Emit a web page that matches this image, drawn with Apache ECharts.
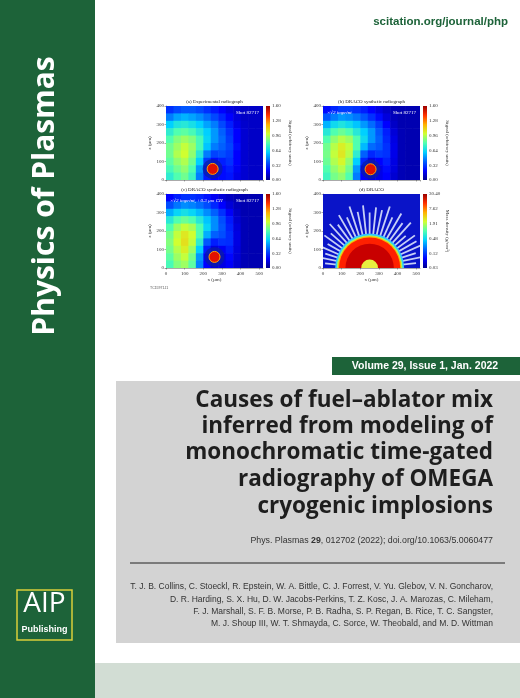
<!DOCTYPE html>
<html><head><meta charset="utf-8">
<script src="https://cdn.jsdelivr.net/npm/echarts@6/dist/echarts.min.js"></script>
<style>html,body{margin:0;padding:0;background:#fff}#c{width:520px;height:698px}</style>
</head><body><div id="c"></div>
<script>
// ---- data ----
const xCenters = [20,60,100,140,180,220,260,300,340,380,420,460,500];
const zCenters = [380,340,300,260,220,180,140,100,60,20];
const gridA = [
[0.30,0.35,0.38,0.38,0.35,0.30,0.25,0.20,0.15,0.12,0.10,0.10,0.10],
[0.45,0.52,0.55,0.52,0.48,0.42,0.35,0.28,0.20,0.14,0.10,0.10,0.10],
[0.60,0.68,0.70,0.66,0.60,0.52,0.45,0.35,0.26,0.16,0.11,0.10,0.10],
[0.72,0.80,0.82,0.78,0.70,0.60,0.50,0.40,0.30,0.20,0.12,0.10,0.10],
[0.80,0.88,0.92,0.88,0.78,0.62,0.50,0.42,0.32,0.20,0.12,0.10,0.10],
[0.85,0.92,0.98,0.92,0.78,0.58,0.45,0.40,0.34,0.22,0.12,0.10,0.10],
[0.85,0.95,1.00,0.90,0.70,0.45,0.34,0.36,0.32,0.20,0.12,0.10,0.10],
[0.82,0.90,0.95,0.85,0.60,0.32,0.22,0.26,0.30,0.20,0.12,0.10,0.10],
[0.78,0.85,0.90,0.80,0.50,0.25,0.20,0.22,0.26,0.18,0.12,0.10,0.10],
[0.72,0.80,0.85,0.75,0.45,0.25,0.20,0.22,0.24,0.16,0.12,0.10,0.10]];
const gridB = [
[0.22,0.28,0.32,0.32,0.30,0.26,0.20,0.15,0.10,0.07,0.06,0.06,0.06],
[0.38,0.45,0.50,0.48,0.44,0.38,0.30,0.22,0.14,0.08,0.06,0.06,0.06],
[0.55,0.64,0.68,0.64,0.58,0.50,0.42,0.32,0.20,0.10,0.06,0.06,0.06],
[0.70,0.80,0.84,0.80,0.70,0.60,0.50,0.38,0.26,0.13,0.07,0.06,0.06],
[0.80,0.90,0.96,0.92,0.80,0.64,0.50,0.40,0.28,0.15,0.07,0.06,0.06],
[0.85,0.96,1.04,0.98,0.80,0.56,0.42,0.38,0.30,0.16,0.07,0.06,0.06],
[0.86,0.98,1.06,0.96,0.72,0.40,0.28,0.32,0.30,0.16,0.07,0.06,0.06],
[0.84,0.95,1.02,0.90,0.60,0.28,0.16,0.20,0.26,0.15,0.07,0.06,0.06],
[0.80,0.90,0.96,0.85,0.50,0.20,0.14,0.16,0.22,0.14,0.07,0.06,0.06],
[0.76,0.86,0.90,0.80,0.45,0.20,0.14,0.16,0.20,0.12,0.07,0.06,0.06]];
const gridC = [
[0.20,0.26,0.30,0.30,0.28,0.24,0.18,0.13,0.09,0.07,0.06,0.06,0.06],
[0.36,0.44,0.48,0.46,0.42,0.36,0.28,0.20,0.13,0.08,0.06,0.06,0.06],
[0.54,0.62,0.66,0.62,0.56,0.48,0.40,0.30,0.19,0.10,0.06,0.06,0.06],
[0.70,0.80,0.84,0.80,0.70,0.58,0.48,0.36,0.25,0.12,0.07,0.06,0.06],
[0.80,0.92,0.98,0.94,0.80,0.62,0.48,0.38,0.27,0.14,0.07,0.06,0.06],
[0.86,0.98,1.06,1.00,0.80,0.54,0.40,0.36,0.29,0.15,0.07,0.06,0.06],
[0.88,1.00,1.08,0.98,0.72,0.38,0.26,0.30,0.29,0.15,0.07,0.06,0.06],
[0.86,0.96,1.04,0.92,0.60,0.26,0.15,0.18,0.25,0.14,0.07,0.06,0.06],
[0.82,0.92,0.98,0.86,0.50,0.20,0.13,0.15,0.21,0.13,0.07,0.06,0.06],
[0.78,0.88,0.92,0.82,0.46,0.20,0.13,0.15,0.19,0.12,0.07,0.06,0.06]];
const hotSpots = [[250,60],[255,58],[260,60]];
const dRings = [[185,'#30c8ff'],[176,'#a0ff60'],[170,'#ffb000'],[164,'#ff2000'],[130,'#c80000'],[45,'#e8f040']];
const dSpikes = [[6,250],[12,300],[18,260],[24,320],[30,290],[36,300],[42,260],[48,330],[54,300],[60,340],[66,300],[72,350],[78,320],[84,330],[90,300],[96,340],[102,310],[108,350],[114,300],[120,330],[126,290],[132,320],[138,280],[144,300],[150,260],[156,290],[162,250],[168,270],[174,240]];
const sigTicks = ['0.00','0.32','0.64','0.96','1.28','1.60'];
const rhoTicks = ['0.03','0.12','0.48','1.91','7.62','30.40'];
const titles = ['(a) Experimental radiograph','(b) DRACO synthetic radiograph','(c) DRACO synthetic radiograph','(d) DRACO'];
const insets = [['','Shot 82717'],['×√2 imprint','Shot 82717'],['×√2 imprint, +0.3 µm CH','Shot 82717'],['','']];
const title = ['Causes of fuel–ablator mix','inferred from modeling of','monochromatic time-gated','radiography of OMEGA','cryogenic implosions'];
const authors = ['T. J. B. Collins, C. Stoeckl, R. Epstein, W. A. Bittle, C. J. Forrest, V. Yu. Glebov, V. N. Goncharov,',
'D. R. Harding, S. X. Hu, D. W. Jacobs-Perkins, T. Z. Kosc, J. A. Marozas, C. Mileham,',
'F. J. Marshall, S. F. B. Morse, P. B. Radha, S. P. Regan, B. Rice, T. C. Sangster,',
'M. J. Shoup III, W. T. Shmayda, C. Sorce, W. Theobald, and M. D. Wittman'];

// ---- layout ----
const GREEN='#1d6339';
const jet=['#00008f','#0000ff','#0060ff','#00d0ff','#50ffb0','#d0ff30','#ffb000','#ff3000','#9a0000'];
const col=v=>echarts.color.lerp(Math.max(0,Math.min(1,v/1.6)),jet);
const panels=[{l:166,t:106},{l:323,t:106},{l:166,t:194},{l:323,t:194}];
const PW=97, PH=74;
const grids=[],xAxes=[],yAxes=[],series=[],graphics=[];
const axFont={fontFamily:'Liberation Serif',fontSize:5,color:'#333'};
panels.forEach((p,i)=>{
  grids.push({left:p.l,top:p.t,width:PW,height:PH});
  xAxes.push({gridIndex:i,type:'value',min:0,max:520,interval:100,axisLabel:{show:i>=2,...axFont,margin:3},axisLine:{lineStyle:{color:'#555',width:0.5}},axisTick:{length:1.5,lineStyle:{width:0.5}},splitLine:{show:false},
    name:i>=2?'x (µm)':'',nameLocation:'middle',nameGap:9,nameTextStyle:{...axFont}});
  yAxes.push({gridIndex:i,type:'value',min:0,max:400,interval:100,axisLabel:{...axFont,margin:2},axisLine:{show:true,lineStyle:{color:'#555',width:0.5}},axisTick:{show:true,length:1.5,lineStyle:{width:0.5}},splitLine:{show:false},
    name:'z (µm)',nameLocation:'middle',nameGap:12,nameTextStyle:{...axFont}});
});
[gridA,gridB,gridC].forEach((g,i)=>{
  const data=[];
  g.forEach((row,r)=>row.forEach((v,c)=>data.push([xCenters[c],zCenters[r],v])));
  series.push({type:'custom',xAxisIndex:i,yAxisIndex:i,clip:true,data,encode:{x:0,y:1},
    renderItem:(params,api)=>{const pt=api.coord([api.value(0)-20,api.value(1)+20]);const s=api.size([40,40]);
      return {type:'rect',shape:{x:pt[0],y:pt[1],width:s[0]+0.6,height:s[1]+0.6},style:{fill:col(api.value(2)),opacity:1}};}});
  series.push({type:'scatter',xAxisIndex:i,yAxisIndex:i,data:[hotSpots[i]],symbolSize:20,itemStyle:{color:'#0a1ea0',opacity:0.7},silent:true,z:3});
  series.push({type:'scatter',xAxisIndex:i,yAxisIndex:i,data:[hotSpots[i]],symbolSize:11,itemStyle:{color:'#e01000',borderColor:'#ffa000',borderWidth:1,opacity:1},silent:true,z:4});
});
series.push({type:'custom',xAxisIndex:3,yAxisIndex:3,clip:true,data:[[0]],
  renderItem:(params,api)=>{const o=api.coord([0,400]);const s=api.size([520,400]);
    return {type:'rect',shape:{x:o[0],y:o[1],width:s[0],height:s[1]},style:{fill:'#0a14c8'}};}});
series.push({type:'custom',xAxisIndex:3,yAxisIndex:3,clip:true,data:dSpikes,z:3,
  renderItem:(params,api)=>{const a=api.value(0)*Math.PI/180,L=api.value(1);
    const p0=api.coord([250+150*Math.cos(a),150*Math.sin(a)]);const p1=api.coord([250+L*Math.cos(a),L*Math.sin(a)]);
    return {type:'line',shape:{x1:p0[0],y1:p0[1],x2:p1[0],y2:p1[1]},style:{stroke:'#e8f0ff',lineWidth:1.8,opacity:0.85}};}});
series.push({type:'custom',xAxisIndex:3,yAxisIndex:3,clip:true,data:dRings.map(r=>[r[0]]),z:4,
  renderItem:(params,api)=>{const c=api.coord([250,0]);const r=api.size([api.value(0),0])[0];
    return {type:'sector',shape:{cx:c[0],cy:c[1],r:r,r0:0,startAngle:0,endAngle:Math.PI*2},style:{fill:dRings[params.dataIndex][1]}};}});

panels.forEach((p,i)=>{
  const cx=p.l+PW+3, top=p.t;
  graphics.push({type:'rect',shape:{x:cx,y:top,width:4,height:PH},style:{fill:new echarts.graphic.LinearGradient(0,1,0,0,jet.map((c,k)=>({offset:k/(jet.length-1),color:c})))}});
  const ticks=i<3?sigTicks:rhoTicks;
  ticks.forEach((t,k)=>graphics.push({type:'text',x:cx+6,y:top+PH*(1-k/(ticks.length-1)),style:{text:t,font:'5px Liberation Serif',fill:'#333',verticalAlign:'middle'}}));
  graphics.push({type:'text',x:cx+24,y:top+PH/2,rotation:-Math.PI/2,style:{text:i<3?'Signal (arbitrary units)':'Mass density (g/cm³)',font:'5px Liberation Serif',fill:'#333',align:'center',verticalAlign:'middle'}});
  graphics.push({type:'text',x:p.l+PW/2,y:p.t-2,style:{text:titles[i],font:'5px Liberation Serif',fill:'#222',align:'center',verticalAlign:'bottom'}});
  if(insets[i][0])graphics.push({type:'text',x:p.l+4,y:p.t+7,z:10,style:{text:insets[i][0],font:'italic 5px Liberation Serif',fill:'#fff',verticalAlign:'middle'}});
  if(insets[i][1])graphics.push({type:'text',x:p.l+PW-4,y:p.t+7,z:10,style:{text:insets[i][1],font:'5px Liberation Serif',fill:'#fff',align:'right',verticalAlign:'middle'}});
});
graphics.push({type:'text',x:150,y:286,style:{text:'TC15971J1',font:'3.5px Liberation Sans',fill:'#555'}});

const bg=[
 {type:'rect',shape:{x:0,y:0,width:95,height:698},style:{fill:GREEN},z:-10},
 {type:'rect',shape:{x:95,y:663,width:425,height:35},style:{fill:'#d2ddd4'},z:-10},
 {type:'rect',shape:{x:116,y:381,width:404,height:262},style:{fill:'#d3d3d3'},z:-10},
 {type:'rect',shape:{x:332,y:357,width:188,height:18},style:{fill:GREEN},z:-10},
 {type:'text',x:425,y:366,style:{text:'Volume 29, Issue 1, Jan. 2022',font:'bold 10.5px Liberation Sans',fill:'#fff',align:'center',verticalAlign:'middle'}},
 {type:'text',x:508,y:22,style:{text:'scitation.org/journal/php',font:'bold 11.5px Liberation Sans',fill:GREEN,align:'right',verticalAlign:'middle'}},
 {type:'text',x:45,y:196,rotation:Math.PI/2,style:{text:'Physics of Plasmas',font:'bold 30px Open Sans',fill:'#fff',align:'center',verticalAlign:'middle'}},
 {type:'rect',shape:{x:17,y:590,width:55,height:50},style:{fill:GREEN,stroke:'#d9cf3a',lineWidth:1.5}},
 {type:'text',x:44.5,y:618,style:{text:'AIP',font:'28px Open Sans',fill:'#fff',align:'center',verticalAlign:'bottom'}},
 {type:'text',x:44.5,y:630,style:{text:'Publishing',font:'bold 9px Liberation Sans',fill:'#fff',align:'center',verticalAlign:'middle'}},
 {type:'line',shape:{x1:130,y1:563,x2:505,y2:563},style:{stroke:'#222',lineWidth:1}},
 {type:'text',x:493,y:541,style:{text:'Phys. Plasmas {b|29}, 012702 (2022); doi.org/10.1063/5.0060477',rich:{b:{fontWeight:'bold',fontSize:8.8,fontFamily:'Liberation Sans'}},font:'8.8px Liberation Sans',fill:'#333',align:'right',verticalAlign:'middle'}}
];
const tY=[401,427,453,480,507];
title.forEach((t,k)=>bg.push({type:'text',x:493,y:tY[k],style:{text:t,font:'bold 22.5px Open Sans',fill:'#1e1e1e',align:'right',verticalAlign:'middle'}}));
const aY=[587,599.5,612,624];
authors.forEach((t,k)=>bg.push({type:'text',x:493,y:aY[k],style:{text:t,font:'8.5px Liberation Sans',fill:'#333',align:'right',verticalAlign:'middle'}}));

const chart=echarts.init(document.getElementById('c'),null,{renderer:'canvas'});
chart.setOption({animation:false,grid:grids,xAxis:xAxes,yAxis:yAxes,series,graphic:bg.concat(graphics)});
</script></body></html>
